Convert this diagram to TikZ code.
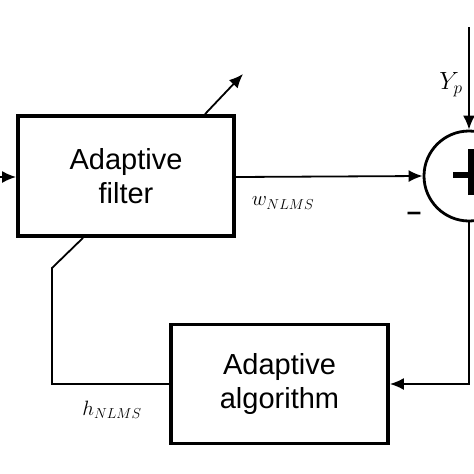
\documentclass[tikz,border=0pt]{standalone}
\usepackage{fontspec}
\setsansfont{Liberation Sans}
\usetikzlibrary{arrows.meta, positioning, calc}
\tikzset{
    >=Latex,
    font=\sffamily,
    blk_box/.style={
        rectangle,
        draw,
        line width=3.8pt,
        minimum width=216pt,
        minimum height=120pt,
        align=center,
        font=\sffamily\fontsize{29}{34}\selectfont
    },
    blk_sum/.style={
        circle,
        draw,
        line width=2.8pt,
        minimum size=90pt,
        inner sep=0pt
    },
    blk_arrow/.style={
        -{Latex[length=14pt, width=12pt]},
        line width=1.8pt
    },
    blk_line/.style={
        line width=1.8pt
    },
    blk_label/.style={
        font=\fontsize{21}{25}\selectfont
    }
}

\begin{document}
\begin{tikzpicture}[x=1pt, y=-1pt]
\useasboundingbox (0,0) rectangle (474,474);

% --- Blocks ---
\node[blk_box] (filter) at (126,176) {Adaptive\\filter};
\node[blk_box, minimum width=217pt, minimum height=119pt] (algo) at (279.5,384) {Adaptive\\algorithm};
\node[blk_sum] (sum) at (469,176) {};

% --- Free ends ---
\coordinate (xin) at (0,177);
\coordinate (yin) at (469,27);
\coordinate (adj) at (243,74);
\coordinate (fbk) at (52,268);

% --- Plus / minus ---
\draw[line width=5.5pt] ([xshift=-16pt, yshift=1pt]sum.center) -- ([xshift=22pt, yshift=1pt]sum.center);
\draw[line width=5.5pt] ([xshift=2pt, yshift=-19pt]sum.center) -- ([xshift=2pt, yshift=27pt]sum.center);
\node[font=\sffamily\bfseries\fontsize{26}{30}\selectfont] (minus) at (414,216) {--};

% --- Labels ---
\node[blk_label] (wlab) at (283,203) {$w_{NLMS}$};
\node[blk_label] (hlab) at (112,410) {$h_{NLMS}$};
\node[blk_label, font=\fontsize{24}{28}\selectfont] (ylab) at (451,85) {$Y_p$};

% --- Edges ---
\draw[blk_arrow] (xin) -- (filter.west |- xin);
\draw[blk_arrow] (filter.east |- xin) -- (sum.west);
\draw[blk_arrow] (yin) -- (sum.north);
\draw[blk_arrow] ([xshift=79pt]filter.north) -- (adj);
\draw[blk_arrow] (sum.south) |- (algo.east);
\draw[blk_line] (algo.west) -| (fbk) -- ([xshift=-43pt]filter.south);

\end{tikzpicture}
\end{document}
